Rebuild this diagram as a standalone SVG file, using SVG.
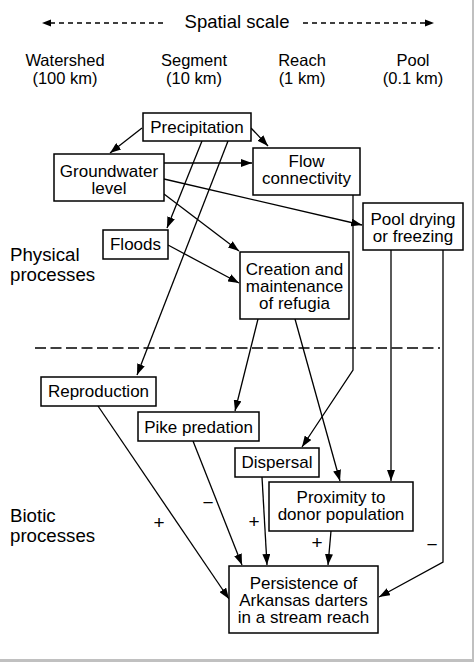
<svg xmlns="http://www.w3.org/2000/svg" width="474" height="662" viewBox="0 0 474 662">
<defs>
<marker id="ah" markerUnits="userSpaceOnUse" markerWidth="11" markerHeight="8" refX="11" refY="4" orient="auto">
<path d="M0,0 L11,4 L0,8 z" fill="#000"/>
</marker>
<style>
text{font-family:"Liberation Sans",Arial,sans-serif;fill:#000;}
.t{font-size:17px;text-anchor:middle;}
.k{font-size:16.5px;text-anchor:middle;}
.h{font-size:18.7px;}
.b{fill:#fff;stroke:#000;stroke-width:1.5;}
.c{fill:none;stroke:#000;stroke-width:1.3;marker-end:url(#ah);}
.s{font-size:19px;text-anchor:middle;}
</style>
</defs>
<rect width="474" height="662" fill="#fff"/>
<rect x="472" y="0" width="2" height="662" fill="#c0c0c0"/>
<rect x="0" y="659" width="474" height="3" fill="#c0c0c0"/>

<g id="scale">
<line x1="50" y1="23" x2="165" y2="23" stroke="#000" stroke-width="1.5" stroke-dasharray="5,4"/>
<path d="M42,23 L51,19.5 L51,26.5 z" fill="#000"/>
<line x1="303" y1="23" x2="426" y2="23" stroke="#000" stroke-width="1.5" stroke-dasharray="5,4"/>
<path d="M434,23 L425,19.5 L425,26.5 z" fill="#000"/>
<text class="k" x="237" y="28" style="font-size:18.5px">Spatial scale</text>
<text class="k" x="65" y="66">Watershed<tspan x="65" dy="18">(100 km)</tspan></text>
<text class="k" x="194" y="66">Segment<tspan x="194" dy="18">(10 km)</tspan></text>
<text class="k" x="302" y="66">Reach<tspan x="302" dy="18">(1 km)</tspan></text>
<text class="k" x="413" y="66">Pool<tspan x="413" dy="18">(0.1 km)</tspan></text>
</g>

<g id="sections">
<text class="h" x="10" y="261">Physical<tspan x="10" dy="20">processes</tspan></text>
<line x1="35" y1="348" x2="440" y2="348" stroke="#000" stroke-width="1.5" stroke-dasharray="11,4.5"/>
<text class="h" x="10" y="522">Biotic<tspan x="10" dy="20">processes</tspan></text>
</g>

<g id="connectors">
<line class="c" x1="142" y1="128" x2="110" y2="153"/>
<line class="c" x1="251" y1="128" x2="268" y2="146"/>
<line class="c" x1="164" y1="163" x2="252" y2="163"/>
<line class="c" x1="164" y1="179" x2="362" y2="225"/>
<line class="c" x1="164" y1="194" x2="239" y2="251"/>
<line class="c" x1="202" y1="141" x2="167" y2="228"/>
<line class="c" x1="228" y1="141" x2="137" y2="375"/>
<line class="c" x1="168" y1="245" x2="239" y2="283"/>
<polyline class="c" points="353,195 353,370 302,447"/>
<line class="c" x1="391" y1="250" x2="391" y2="481"/>
<polyline class="c" points="443,250 443,562 379,597"/>
<line class="c" x1="258" y1="319" x2="235" y2="411"/>
<line class="c" x1="295" y1="319" x2="340" y2="481"/>
<line class="c" x1="98" y1="406" x2="229" y2="599"/>
<line class="c" x1="193" y1="441" x2="242" y2="565"/>
<line class="c" x1="262" y1="477" x2="267" y2="565"/>
<line class="c" x1="331" y1="531" x2="328" y2="565"/>
<text class="s" x="159" y="529">+</text>
<text class="s" x="208" y="509">−</text>
<text class="s" x="254" y="528">+</text>
<text class="s" x="317" y="549">+</text>
<text class="s" x="432" y="551">−</text>
</g>

<g id="precipitation">
<rect class="b" x="143" y="113" width="108" height="28"/>
<text class="t" x="197" y="133">Precipitation</text>
</g>
<g id="groundwater">
<rect class="b" x="54" y="154" width="110" height="47"/>
<text class="t" x="109" y="177">Groundwater<tspan x="109" dy="17">level</tspan></text>
</g>
<g id="flow">
<rect class="b" x="253" y="148" width="107" height="47"/>
<text class="t" x="306.5" y="167">Flow<tspan x="306.5" dy="17">connectivity</tspan></text>
</g>
<g id="pool">
<rect class="b" x="363" y="203" width="100" height="47"/>
<text class="t" x="413" y="225">Pool drying<tspan x="413" dy="17">or freezing</tspan></text>
</g>
<g id="floods">
<rect class="b" x="103" y="230" width="65" height="29"/>
<text class="t" x="135.5" y="250">Floods</text>
</g>
<g id="refugia">
<rect class="b" x="240" y="252" width="109" height="67"/>
<text class="t" x="294.5" y="275">Creation and<tspan x="294.5" dy="17">maintenance</tspan><tspan x="294.5" dy="17">of refugia</tspan></text>
</g>
<g id="reproduction">
<rect class="b" x="41" y="377" width="115" height="29"/>
<text class="t" x="98.5" y="397">Reproduction</text>
</g>
<g id="pike">
<rect class="b" x="138" y="412" width="121" height="29"/>
<text class="t" x="198.5" y="433">Pike predation</text>
</g>
<g id="dispersal">
<rect class="b" x="235" y="448" width="84" height="29"/>
<text class="t" x="277" y="468">Dispersal</text>
</g>
<g id="proximity">
<rect class="b" x="269" y="482" width="144" height="49"/>
<text class="t" x="341" y="503">Proximity to<tspan x="341" dy="17">donor population</tspan></text>
</g>
<g id="persistence">
<rect class="b" x="229" y="566" width="149" height="67"/>
<text class="t" x="303.5" y="589">Persistence of<tspan x="303.5" dy="17">Arkansas darters</tspan><tspan x="303.5" dy="17">in a stream reach</tspan></text>
</g>
</svg>
